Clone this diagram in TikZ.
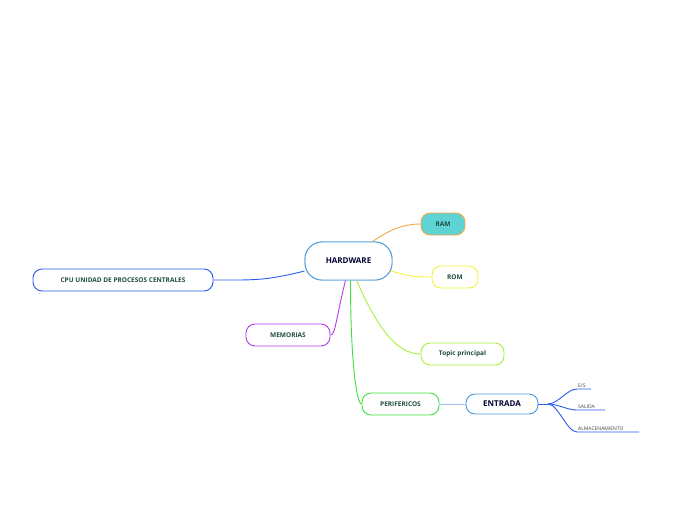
\documentclass[tikz,border=0pt]{standalone}
\usepackage{fontspec}
\setmainfont{Open Sans}
\begin{document}
\begin{tikzpicture}[x=1pt,y=-1pt,
  topic/.style={draw,line width=0.9pt,rounded corners=9pt,fill=white,font=\bfseries\fontsize{6.5}{7}\selectfont,text=txt,minimum height=22pt,inner sep=0pt},
  leaf/.style={font=\fontsize{5}{6}\selectfont,text=black!75,anchor=south west,inner sep=1pt},
  conn/.style={line width=0.9pt}]
\definecolor{txt}{HTML}{1E4D3A}
\definecolor{hwb}{HTML}{4A9ADB}
\definecolor{ramf}{HTML}{5FD3D3}
\definecolor{ors}{HTML}{F5A742}
\definecolor{yel}{HTML}{F3F33A}
\definecolor{lgr}{HTML}{A8F03A}
\definecolor{grn}{HTML}{3EE03E}
\definecolor{pur}{HTML}{B33EEA}
\definecolor{blu}{HTML}{2A5AF0}
\definecolor{lblu}{HTML}{9CC3F0}
\useasboundingbox (0,0) rectangle (696,520);
\node[topic,draw=hwb,minimum width=87pt,minimum height=38pt,rounded corners=17pt,font=\bfseries\fontsize{8}{9}\selectfont,text=black!80!blue] (hw) at (348.5,261) {HARDWARE};
\node[topic,draw=ors,fill=ramf,minimum width=44pt] (ram) at (443,224) {RAM};
\node[topic,draw=yel,minimum width=46pt] (rom) at (455,277) {ROM};
\node[topic,draw=lgr,minimum width=83pt] (tp) at (462.5,354) {Topic principal};
\node[topic,draw=grn,minimum width=77pt] (per) at (400.5,404) {PERIFERICOS};
\node[topic,draw=hwb,minimum width=72pt,minimum height=20pt,font=\bfseries\fontsize{8}{9}\selectfont,text=black!80!blue] (ent) at (502,404) {ENTRADA};
\node[topic,draw=blu,minimum width=180pt] (cpu) at (123,280) {CPU UNIDAD DE PROCESOS CENTRALES};
\node[topic,draw=pur,minimum width=84pt] (mem) at (288,335) {MEMORIAS};
\node[leaf] (es) at (577,389) {E/S};
\node[leaf] (sal) at (577,410) {SALIDA};
\node[leaf] (alm) at (577,432) {ALMACENAMIENTO};
\coordinate (esE) at (591,389);
\coordinate (salE) at (605,410);
\coordinate (almE) at (639,432);
\coordinate (ej) at (548,404);
\begin{scope}[on background layer/.style={}]
\end{scope}
\draw[conn,ors] (hw.north east) ++(-20,0) .. controls +(15,-10) and +(-20,0) .. (ram.west);
\draw[conn,yel] (hw.east) ++(-2,10) .. controls +(20,5) and +(-20,0) .. (rom.west);
\draw[conn,lgr] (hw.south) ++(8,0) .. controls +(20,45) and +(-25,0) .. (tp.west);
\draw[conn,grn] (hw.south) ++(2,0) .. controls +(0,80) and +(-5,0) .. (per.west);
\draw[conn,pur] (hw.south) ++(-3,0) .. controls +(-10,40) and +(5,0) .. (mem.east);
\draw[conn,blu] (hw.west) ++(0,10) .. controls +(-40,10) and +(40,0) .. (cpu.east);
\draw[conn,lblu] (per.east) -- (ent.west);
\draw[conn,blu] (ent.east) -- (ej);
\draw[conn,blu] (ej) .. controls +(10,0) and +(-10,0) .. (es.south west) -- (esE);
\draw[conn,blu] (ej) .. controls +(10,0) and +(-10,0) .. (sal.south west) -- (salE);
\draw[conn,blu] (ej) .. controls +(10,0) and +(-10,0) .. (alm.south west) -- (almE);
\node[topic,draw=hwb,minimum width=87pt,minimum height=38pt,rounded corners=17pt,font=\bfseries\fontsize{8}{9}\selectfont,text=black!80!blue] at (348.5,261) {HARDWARE};
\end{tikzpicture}
\end{document}
